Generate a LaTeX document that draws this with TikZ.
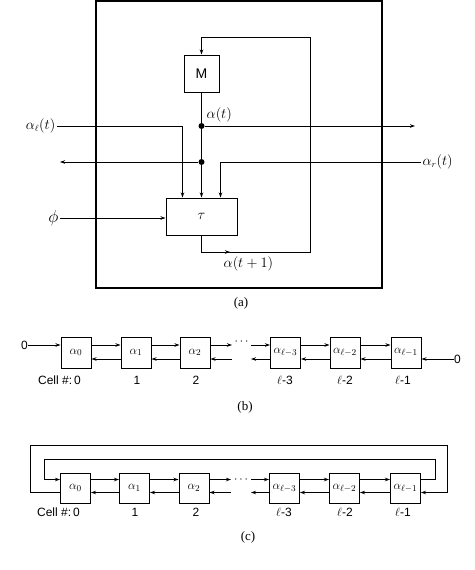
\documentclass[tikz,border=0pt]{standalone}
\usepackage{fontspec}
\setmainfont{Liberation Serif}
\setsansfont{Liberation Sans}
\usetikzlibrary{arrows.meta,decorations.markings}
\begin{document}
\begin{tikzpicture}[x=1pt,y=-1pt,
  wire/.style={line width=1pt},
  arr/.style={wire,-{Stealth[length=5pt,width=3.5pt]}},
  blk/.style={draw,line width=1pt,inner sep=0pt,font=\sffamily\fontsize{14}{14}\selectfont},
  cellbox/.style={draw,line width=1pt,minimum width=30pt,minimum height=31pt,inner sep=0pt,font=\fontsize{12.5}{12.5}\selectfont},
  junc/.style={circle,fill,inner sep=0pt,minimum size=6pt},
  lbl/.style={font=\sffamily\fontsize{13.5}{13.5}\selectfont,inner sep=1.5pt},
  num/.style={font=\sffamily\fontsize{12}{12}\selectfont,inner sep=0pt},
  captxt/.style={font=\fontsize{13}{13}\selectfont,inner sep=0pt}]
\useasboundingbox (0,0) rectangle (474,570);

% ---------- (a) ----------
\node[draw,line width=1.6pt,minimum width=286pt,minimum height=287pt,inner sep=0pt] (frame) at (239,144.5) {};
\node[blk,minimum width=35pt,minimum height=37pt] (M) at (201.5,73.5) {M};
\node[blk,minimum width=71pt,minimum height=37pt] (tau) at (201.5,216.5) {$\tau$};
\node[junc] (d1) at (201.5,126) {};
\node[junc] (d2) at (201.5,162) {};
\coordinate (fb1) at (310,252);
\coordinate (fb2) at (310,37);
\coordinate (outR) at (415,126);
\coordinate (outL) at (60,162);
\node[lbl,anchor=east] (al) at (57,126) {$\alpha_\ell(t)$};
\node[lbl,anchor=west] (ar) at (421,162) {$\alpha_r(t)$};
\node[lbl,anchor=east,font=\fontsize{16}{16}\selectfont] (phi) at (60,218) {$\phi$};
\node[lbl,anchor=west] (lat) at (205,115) {$\alpha(t)$};
\node[lbl,anchor=west] (lat1) at (222,264) {$\alpha(t+1)$};

\draw[arr] (M.south) -- (tau.north);
\draw[arr,postaction={decorate},decoration={markings,mark=at position 45pt with {\arrow{Stealth[length=5pt,width=3.5pt]}}}]
  (tau.south) |- (fb1) -- (fb2) -| (M.north);
\draw[arr] (al.east) -| ([xshift=17pt]tau.north west);
\draw[arr] (ar.west) -| ([xshift=-17pt]tau.north east);
\draw[arr] (d1) -- (outR);
\draw[arr] (d2) -- (outL);
\draw[arr] (phi.east) -- (phi.east -| tau.west);
\node[captxt] (capa) at (241,303) {(a)};

% ---------- (b) ----------
\foreach \n/\x/\t in {0/76/{\alpha_0},1/136/{\alpha_1},2/195/{\alpha_2},3/285.5/{\alpha_{\ell-3}},4/345/{\alpha_{\ell-2}},5/406/{\alpha_{\ell-1}}}
  \node[cellbox] (b\n) at (\x,352.5) {$\t$};
\foreach \a/\b in {0/1,1/2,3/4,4/5}{
  \draw[arr] ([yshift=7.5pt]b\a.east) -- ([yshift=7.5pt]b\b.west);
  \draw[arr] ([yshift=-6.5pt]b\b.west) -- ([yshift=-6.5pt]b\a.east);
}
\coordinate (bg1) at (232,352.5);
\coordinate (bg2) at (251,352.5);
\draw[arr] ([yshift=7.5pt]b2.east) -- ([yshift=7.5pt]bg1);
\draw[arr] ([yshift=-6.5pt]bg1) -- ([yshift=-6.5pt]b2.east);
\draw[arr] ([yshift=7.5pt]bg2) -- ([yshift=7.5pt]b3.west);
\draw[arr] ([yshift=-6.5pt]b3.west) -- ([yshift=-6.5pt]bg2);
\node[num] (bdots) at (241.5,342) {$\cdots$};
\node[num,anchor=east] (bz0) at (28,345) {0};
\node[num,anchor=west] (bz1) at (454,359) {0};
\draw[arr] (bz0.east) -- (bz0.east -| b0.west);
\draw[arr] (bz1.west) -- (bz1.west -| b5.east);
\node[num,anchor=east] (bc0) at (81,380) {Cell \#:\,0};
\node[num] (bc1) at (137,380) {1};
\node[num] (bc2) at (196,380) {2};
\node[num] (bc3) at (285,380) {$\ell$-3};
\node[num] (bc4) at (345,380) {$\ell$-2};
\node[num] (bc5) at (403,380) {$\ell$-1};
\node[captxt] (capb) at (245,407) {(b)};

% ---------- (c) ----------
\foreach \n/\x/\t in {0/75.5/{\alpha_0},1/134.5/{\alpha_1},2/194/{\alpha_2},3/284.5/{\alpha_{\ell-3}},4/344.5/{\alpha_{\ell-2}},5/405.5/{\alpha_{\ell-1}}}
  \node[cellbox,minimum height=30pt] (c\n) at (\x,488) {$\t$};
\foreach \a/\b in {0/1,1/2,3/4,4/5}{
  \draw[arr] ([yshift=8.5pt]c\a.east) -- ([yshift=8.5pt]c\b.west);
  \draw[arr] ([yshift=-4.5pt]c\b.west) -- ([yshift=-4.5pt]c\a.east);
}
\coordinate (cg1) at (231,488);
\coordinate (cg2) at (251,488);
\draw[arr] ([yshift=8.5pt]c2.east) -- ([yshift=8.5pt]cg1);
\draw[arr] ([yshift=-4.5pt]cg1) -- ([yshift=-4.5pt]c2.east);
\draw[arr] ([yshift=8.5pt]cg2) -- ([yshift=8.5pt]c3.west);
\draw[arr] ([yshift=-4.5pt]c3.west) -- ([yshift=-4.5pt]cg2);
\node[num] (cdots) at (241,480) {$\cdots$};
% outer loop: alpha_0 -> alpha_{l-1} (lower)
\coordinate (o1) at (30,492.5);
\coordinate (o2) at (30,445);
\coordinate (o3) at (447,445);
\coordinate (o4) at (447,492.5);
\draw[arr] ([yshift=-4.5pt]c0.west) -- (o1) -- (o2) -- (o3) -- (o4) -- ([yshift=-4.5pt]c5.east);
% inner loop: alpha_{l-1} -> alpha_0 (upper)
\coordinate (i1) at (435,479.5);
\coordinate (i2) at (435,459);
\coordinate (i3) at (44,459);
\coordinate (i4) at (44,479.5);
\draw[arr] ([yshift=8.5pt]c5.east) -- (i1) -- (i2) -- (i3) -- (i4) -- ([yshift=8.5pt]c0.west);
\node[num,anchor=east] (cc0) at (80,512) {Cell \#:\,0};
\node[num] (cc1) at (135,512) {1};
\node[num] (cc2) at (196,512) {2};
\node[num] (cc3) at (284,512) {$\ell$-3};
\node[num] (cc4) at (345,512) {$\ell$-2};
\node[num] (cc5) at (403,512) {$\ell$-1};
\node[captxt] (capc) at (248,537) {(c)};
\end{tikzpicture}
\end{document}
